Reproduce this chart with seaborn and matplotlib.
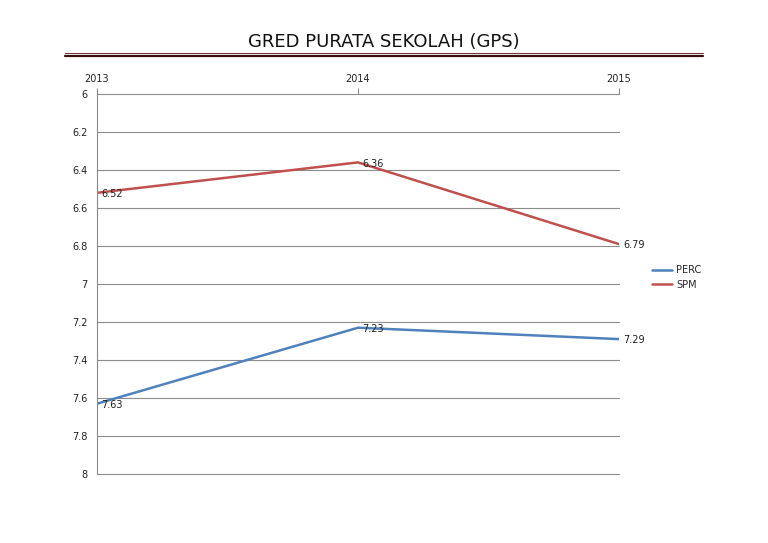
import pandas as pd
import matplotlib
matplotlib.use("Agg")
import matplotlib.pyplot as plt
import seaborn as sns
from matplotlib.lines import Line2D

years = ["2013", "2014", "2015"]
perc = [7.63, 7.23, 7.29]
spm = [6.52, 6.36, 6.79]
series_names = ["PERC", "SPM"]
colors = ["#4F81BD", "#C0504D"]
y_ticks = [6, 6.2, 6.4, 6.6, 6.8, 7, 7.2, 7.4, 7.6, 7.8, 8]
y_tick_labels = ["6", "6.2", "6.4", "6.6", "6.8", "7", "7.2", "7.4", "7.6", "7.8", "8"]

sns.set_style("white")
plt.rcParams['font.family'] = ['DejaVu Sans']

df = pd.DataFrame({
    "year": [0, 1, 2] * 2,
    "value": perc + spm,
    "series": ["PERC"] * 3 + ["SPM"] * 3,
})

fig = plt.figure(figsize=(7.68, 5.43), dpi=100)
ax = fig.add_axes([97 / 768, 1 - 474 / 543, (619 - 97) / 768, (474 - 94) / 543])

sns.lineplot(data=df, x="year", y="value", hue="series", hue_order=series_names,
             palette=colors, linewidth=1.8, ax=ax, legend=False)

# data labels
for vals in (perc, spm):
    for i, v in enumerate(vals):
        ax.annotate("%.2f" % v, (i, v), xytext=(3, -1), textcoords="offset points",
                    ha="left", va="center", fontsize=7, color="#222222")

ax.set_xlim(0, 2)
ax.set_ylim(8, 6)
ax.set_yticks(y_ticks)
ax.set_yticklabels(y_tick_labels)
ax.set_xticks([0, 1, 2])
ax.set_xticklabels(years)
ax.xaxis.tick_top()
ax.tick_params(axis="x", direction="out", length=4, width=0.8, color="#888888",
               labelsize=7, pad=3, labelcolor="#222222")
ax.tick_params(axis="y", direction="out", length=4, width=0.8, color="#888888",
               labelsize=7, pad=3, labelcolor="#222222")
ax.yaxis.grid(True, color="#8c8c8c", linewidth=0.8)
for gl in ax.get_ygridlines():
    gl.set_clip_on(False)
ax.xaxis.grid(False)
ax.set_axisbelow(True)
for s in ["right", "bottom", "top"]:
    ax.spines[s].set_visible(False)
ax.spines["left"].set_color("#888888")
ax.spines["left"].set_linewidth(0.8)
ax.set_xlabel("")
ax.set_ylabel("")

# legend outside at right
handles = [Line2D([0], [0], color=c, linewidth=1.8) for c in colors]
fig.legend(handles, series_names, loc="center left",
           bbox_to_anchor=(643 / 768, 1 - 277.5 / 543), frameon=False,
           fontsize=7, handlelength=2.1, handletextpad=0.4, labelspacing=0.45)

# title and double rule beneath it
fig.text(0.5, 1 - 42 / 543, "GRED PURATA SEKOLAH (GPS)", ha="center", va="center",
         fontsize=13, color="#111111")
fig.add_artist(Line2D([65 / 768, 703 / 768], [1 - 53 / 543] * 2, color="#7a3a3a", linewidth=0.8))
fig.add_artist(Line2D([65 / 768, 703 / 768], [1 - 55.8 / 543] * 2, color="#3a1010", linewidth=1.6))

fig.savefig("out.png", dpi=100)
